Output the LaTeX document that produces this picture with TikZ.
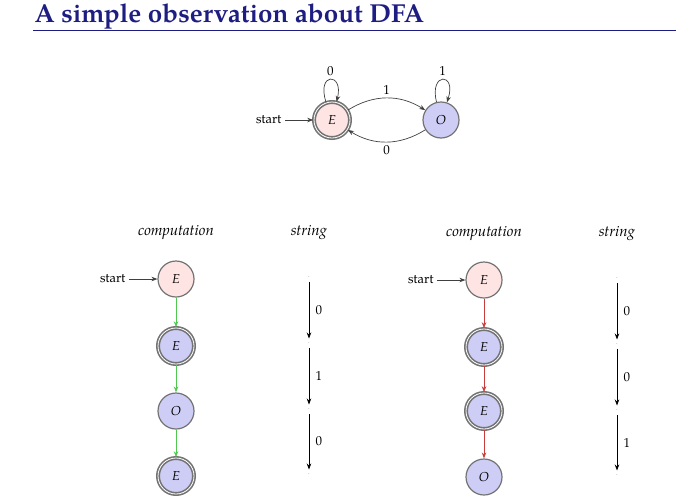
\documentclass[tikz,border=0pt]{standalone}
\usepackage{fontspec}
\setmainfont{TeX Gyre Pagella}
\usetikzlibrary{arrows.meta}
\definecolor{tblue}{RGB}{30,30,130}
\definecolor{spink}{RGB}{255,228,228}
\definecolor{sblue}{RGB}{205,205,245}
\definecolor{sgray}{RGB}{115,115,115}
\definecolor{agreen}{RGB}{80,200,80}
\definecolor{ared}{RGB}{200,60,60}
\tikzset{
 st/.style={circle,draw=sgray,line width=1.2pt,minimum size=36pt,inner sep=0pt,font=\fontsize{13}{13}\selectfont\itshape},
 acc/.style={st,double=white,double distance=0.8pt,line width=1.6pt},
 ini/.style={fill=spink},
 nrm/.style={fill=sblue},
 tr/.style={-{Stealth[length=6pt,width=4.5pt]},line width=0.7pt,draw=black!75},
 lab/.style={font=\fontsize{13}{13}\selectfont},
 hd/.style={font=\fontsize{15}{15}\selectfont\itshape},
 dot/.style={inner sep=0pt,minimum size=0pt,font=\tiny},
 sa/.style={tr,draw=black,shorten <=5pt,shorten >=4pt}
}
\begin{document}
\begin{tikzpicture}[x=1pt,y=-1pt]
\useasboundingbox (0,0) rectangle (700,498);
\node[anchor=base west,text=tblue,font=\fontsize{26}{26}\selectfont\bfseries] (title) at (31,22) {A simple observation about DFA};
\draw[tblue,line width=0.6pt] (33,30) -- (676,30);
% top DFA
\node[acc,ini] (E) at (332,120) {E};
\node[st,nrm] (O) at (441,120) {O};
\node[lab,anchor=east] (s0) at (285,120) {start};
\draw[tr] (s0) -- (E);
\draw[tr] (E) .. controls +(-16,-48) and +(12,-48) .. (E) node[lab,pos=0.5,above] {0};
\draw[tr] (O) .. controls +(-12,-48) and +(16,-48) .. (O) node[lab,pos=0.5,above] {1};
\draw[tr] (E) to[bend left=32] node[lab,above] {1} (O);
\draw[tr] (O) to[bend left=32] node[lab,below] {0} (E);
% bottom left
\node[hd] (h1) at (176,233) {computation};
\node[hd] (h2) at (309,233) {string};
\node[st,ini] (a1) at (176,279) {E};
\node[acc,nrm] (a2) at (176,346) {E};
\node[st,nrm] (a3) at (176,411) {O};
\node[acc,nrm] (a4) at (176,476) {E};
\node[lab,anchor=east] (s1) at (129,279) {start};
\draw[tr] (s1) -- (a1);
\foreach \i/\j in {a1/a2,a2/a3,a3/a4} \draw[tr,draw=agreen] (\i) -- (\j);
\node[dot] (p1) at (309,277) {.};
\node[dot] (p2) at (309,343) {.};
\node[dot] (p3) at (309,409) {.};
\node[dot] (p4) at (309,474) {.};
\draw[sa] (p1) -- node[lab,right=3pt] {0} (p2);
\draw[sa] (p2) -- node[lab,right=3pt] {1} (p3);
\draw[sa] (p3) -- node[lab,right=3pt] {0} (p4);
% bottom right
\node[hd] (h3) at (484,234) {computation};
\node[hd] (h4) at (617,234) {string};
\node[st,ini] (b1) at (484,280) {E};
\node[acc,nrm] (b2) at (484,347) {E};
\node[acc,nrm] (b3) at (484,411) {E};
\node[st,nrm] (b4) at (484,477) {O};
\node[lab,anchor=east] (s2) at (437,280) {start};
\draw[tr] (s2) -- (b1);
\foreach \i/\j in {b1/b2,b2/b3,b3/b4} \draw[tr,draw=ared] (\i) -- (\j);
\node[dot] (q1) at (617,278) {.};
\node[dot] (q2) at (617,344) {.};
\node[dot] (q3) at (617,410) {.};
\node[dot] (q4) at (617,475) {.};
\draw[sa] (q1) -- node[lab,right=3pt] {0} (q2);
\draw[sa] (q2) -- node[lab,right=3pt] {0} (q3);
\draw[sa] (q3) -- node[lab,right=3pt] {1} (q4);
\end{tikzpicture}
\end{document}
